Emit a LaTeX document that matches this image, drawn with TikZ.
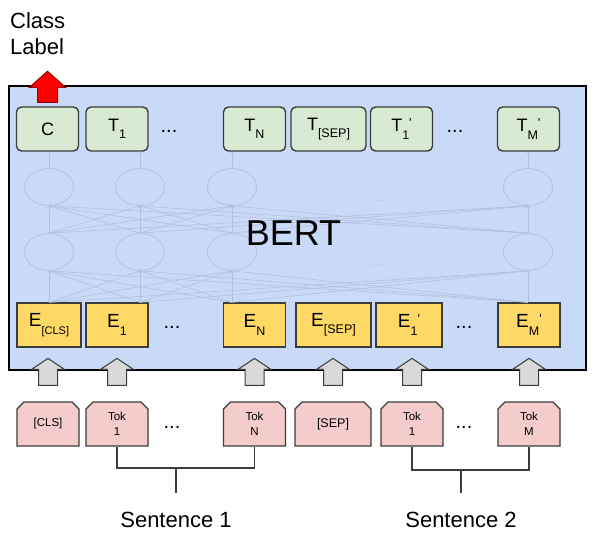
\documentclass[tikz,border=0pt]{standalone}
\usepackage{fontspec}
\setmainfont{Liberation Sans}
\usetikzlibrary{shapes.geometric,shapes.misc}

\definecolor{bertblue}{HTML}{C9DAF8}
\definecolor{netline}{HTML}{B2C0DA}
\definecolor{tgreen}{HTML}{D9EAD3}
\definecolor{eyellow}{HTML}{FFD966}
\definecolor{tokpink}{HTML}{F4CCCC}
\definecolor{boxline}{HTML}{3C3C3C}
\definecolor{inarrow}{HTML}{D9D9D9}
\definecolor{darkred}{HTML}{9A0000}

\begin{document}
\begin{tikzpicture}[x=1pt,y=-1pt,
  tbox/.style={draw=boxline, line width=1.4pt, fill=tgreen, rounded corners=5pt,
    minimum width=62pt, minimum height=44pt, inner sep=0pt, font=\fontsize{18}{18}\selectfont},
  ebox/.style={draw=boxline, line width=1.2pt, fill=eyellow,
    minimum width=62pt, minimum height=44pt, inner sep=0pt, font=\fontsize{19}{19}\selectfont},
  tokbox/.style={chamfered rectangle, chamfered rectangle corners={north west,north east},
    chamfered rectangle sep=3.5pt, draw=boxline, line width=1.2pt, fill=tokpink,
    minimum width=62pt, minimum height=44pt, inner sep=0pt, align=center,
    font=\fontsize{11.5}{15}\selectfont},
  neuron/.style={ellipse, draw=netline, line width=0.7pt, minimum width=49pt, minimum height=37pt, inner sep=0pt},
  wire/.style={draw=netline, ->, line width=0.6pt},
  dotrow/.style={font=\fontsize{20}{20}\selectfont},
  bracket/.style={draw=boxline, line width=1.3pt},
  ]
  \def\lo#1{\raisebox{-7.5pt}{\fontsize{12.5}{12.5}\selectfont#1}}
  \def\pr#1{\lo{#1}\raisebox{4pt}{\fontsize{13}{13}\selectfont\textquotesingle}}
  \def\upblock#1{\draw[fill=inarrow, draw=boxline, line width=1pt, shift={(#1.north)}]
    (-9.5,-16) -- (-9.5,-32) -- (-16.5,-32) -- (0,-43) -- (16.5,-32) -- (9.5,-32) -- (9.5,-16) -- cycle;}

  \useasboundingbox (0,0) rectangle (598,547);

  \node[draw=black, line width=2.8pt, fill=bertblue, minimum width=577pt, minimum height=284pt] (bert) at (297.5,228) {};

  % output row
  \node[tbox] (tC) at (47.5,129) {C};
  \node[tbox] (tA) at (117,129) {T\lo{1}};
  \node[dotrow] (tdA) at (169,131) {...};
  \node[tbox] (tN) at (254.5,129) {T\lo{N}};
  \node[tbox, minimum width=75pt] (tSep) at (328.5,129) {T\lo{[SEP]}};
  \node[tbox] (tB) at (401.5,129) {T\pr{1}};
  \node[dotrow] (tdB) at (455,131) {...};
  \node[tbox] (tM) at (528.5,129) {T\pr{M}};

  % embedding row
  \node[ebox, minimum width=64pt] (eCls) at (49,325) {E\lo{\fontsize{11}{11}\selectfont[CLS]}};
  \node[ebox] (eA) at (117,325) {E\lo{1}};
  \node[dotrow] (edA) at (172,327) {...};
  \node[ebox] (eN) at (254.5,325) {E\lo{N}};
  \node[ebox, minimum width=75pt] (eSep) at (333.5,325) {E\lo{[SEP]}};
  \node[ebox, minimum width=66pt] (eB) at (409,325) {E\pr{1}};
  \node[dotrow] (edB) at (464,327) {...};
  \node[ebox] (eM) at (529,325) {E\pr{M}};

  % network
  \foreach \x/\e/\t [count=\i] in {49/eCls/tC, 140/eA/tA, 232/eN/tN, 528/eM/tM} {
    \node[neuron] (u\i) at (\x,252) {};
    \node[neuron] (v\i) at (\x,187) {};
    \coordinate (b\i) at (\x,0 |- \e.north);
    \draw[wire] (v\i.north) -- (v\i.north |- \t.south);
  }
  \foreach \i in {1,...,4} {
    \foreach \j in {1,...,4} {
      \draw[wire] (b\i) -- (u\j.south);
      \draw[wire] (u\i.north) -- (v\j.south);
    }
  }
  \node[dotrow, text=netline, font=\fontsize{14}{14}\selectfont] (nd1) at (377,201) {...};
  \node[dotrow, text=netline, font=\fontsize{14}{14}\selectfont] (nd2) at (377,266) {...};

  \node[font=\fontsize{36}{36}\selectfont, anchor=base] (bertlbl) at (293.5,245) {BERT};

  % input tokens
  \node[tokbox] (kCls) at (48,424) {[CLS]};
  \node[tokbox] (kA) at (117,424) {Tok\\1};
  \node[dotrow] (kdA) at (172,427) {...};
  \node[tokbox] (kN) at (254.5,424) {Tok\\N};
  \node[tokbox, minimum width=76pt, font=\fontsize{12.5}{15}\selectfont] (kSep) at (333,424) {[SEP]};
  \node[tokbox] (kB) at (412,424) {Tok\\1};
  \node[dotrow] (kdB) at (464,427) {...};
  \node[tokbox] (kM) at (529,424) {Tok\\M};

  \foreach \k in {kCls, kA, kN, kSep, kB, kM} {\upblock{\k}}

  % class label arrow
  \draw[fill=red, draw=darkred, line width=1pt, shift={(tC.north)}]
    (-10,-4) -- (-10,-19) -- (-18,-19) -- (0,-35) -- (18,-19) -- (10,-19) -- (10,-4) -- cycle;
  \node[font=\fontsize{22}{26}\selectfont, align=left, anchor=north west, inner sep=0pt] (cls) at (10,12) {Class\\Label};

  % sentences
  \coordinate (s1) at (176,468);
  \coordinate (s1end) at (176,493);
  \coordinate (s2) at (461,470);
  \coordinate (s2end) at (461,493);
  \draw[bracket] (kA.south) |- (s1) -| (kN.south);
  \draw[bracket] (s1) -- (s1end);
  \draw[bracket] (kB.south) |- (s2) -| (kM.south);
  \draw[bracket] (s2) -- (s2end);
  \node[font=\fontsize{22}{22}\selectfont, anchor=base] (sent1) at (176,527) {Sentence 1};
  \node[font=\fontsize{22}{22}\selectfont, anchor=base] (sent2) at (461,527) {Sentence 2};
\end{tikzpicture}
\end{document}
